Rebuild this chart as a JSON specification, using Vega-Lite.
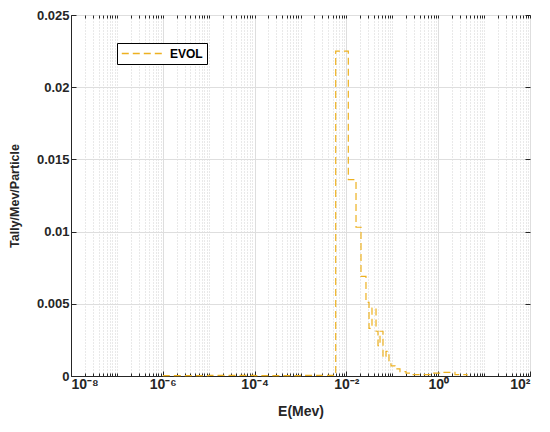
{
  "$schema": "https://vega.github.io/schema/vega-lite/v6.json",
  "width": 459,
  "height": 361,
  "autosize": "none",
  "padding": {"left": 71, "top": 15, "right": 20, "bottom": 56},
  "background": "white",
  "data": {
    "values": [
      {"E": 0.000001, "v": 0.00002, "series": "EVOL"},
      {"E": 0.00001, "v": 0.00004, "series": "EVOL"},
      {"E": 0.0001, "v": 0.00003, "series": "EVOL"},
      {"E": 0.001, "v": 0.00005, "series": "EVOL"},
      {"E": 0.00585, "v": 0.0225, "series": "EVOL"},
      {"E": 0.011, "v": 0.0136, "series": "EVOL"},
      {"E": 0.0162, "v": 0.0103, "series": "EVOL"},
      {"E": 0.0208, "v": 0.0069, "series": "EVOL"},
      {"E": 0.0267, "v": 0.0051, "series": "EVOL"},
      {"E": 0.0311, "v": 0.0033, "series": "EVOL"},
      {"E": 0.0361, "v": 0.0047, "series": "EVOL"},
      {"E": 0.0442, "v": 0.0031, "series": "EVOL"},
      {"E": 0.0488, "v": 0.0021, "series": "EVOL"},
      {"E": 0.054, "v": 0.0031, "series": "EVOL"},
      {"E": 0.0627, "v": 0.0013, "series": "EVOL"},
      {"E": 0.073, "v": 0.0017, "series": "EVOL"},
      {"E": 0.0847, "v": 0.001, "series": "EVOL"},
      {"E": 0.0937, "v": 0.0007, "series": "EVOL"},
      {"E": 0.1145, "v": 0.0005, "series": "EVOL"},
      {"E": 0.147, "v": 0.0003, "series": "EVOL"},
      {"E": 0.199, "v": 0.0002, "series": "EVOL"},
      {"E": 0.269, "v": 0.0001, "series": "EVOL"},
      {"E": 0.8, "v": 0.0002, "series": "EVOL"},
      {"E": 1.27, "v": 0.00025, "series": "EVOL"},
      {"E": 2.32, "v": 0.0001, "series": "EVOL"},
      {"E": 4.24, "v": 0.00002, "series": "EVOL"}
    ]
  },
  "layer": [
    {
      "mark": {"type": "line", "opacity": 0},
      "encoding": {
        "x": {
          "field": "E",
          "type": "quantitative",
          "scale": {"type": "log", "domain": [1e-8, 100], "nice": false},
          "axis": {
            "values": [1e-7, 1e-5, 1e-3, 1e-1, 10,
              2e-8, 3e-8, 4e-8, 5e-8, 6e-8, 7e-8, 8e-8, 9e-8,
              2e-7, 3e-7, 4e-7, 5e-7, 6e-7, 7e-7, 8e-7, 9e-7,
              2e-6, 3e-6, 4e-6, 5e-6, 6e-6, 7e-6, 8e-6, 9e-6,
              2e-5, 3e-5, 4e-5, 5e-5, 6e-5, 7e-5, 8e-5, 9e-5,
              2e-4, 3e-4, 4e-4, 5e-4, 6e-4, 7e-4, 8e-4, 9e-4,
              2e-3, 3e-3, 4e-3, 5e-3, 6e-3, 7e-3, 8e-3, 9e-3,
              0.02, 0.03, 0.04, 0.05, 0.06, 0.07, 0.08, 0.09,
              0.2, 0.3, 0.4, 0.5, 0.6, 0.7, 0.8, 0.9,
              2, 3, 4, 5, 6, 7, 8, 9,
              20, 30, 40, 50, 60, 70, 80, 90],
            "labels": false,
            "domain": false,
            "title": null,
            "grid": true,
            "gridDash": [1, 2],
            "gridColor": "#c8c8c8",
            "gridWidth": 0.8,
            "ticks": true,
            "tickSize": -3,
            "tickColor": "#262626"
          }
        },
        "y": {
          "field": "v",
          "type": "quantitative",
          "scale": {"domain": [0, 0.025], "nice": false},
          "axis": null
        }
      }
    },
    {
      "mark": {"type": "line", "opacity": 0},
      "encoding": {
        "x": {
          "field": "E",
          "type": "quantitative",
          "axis": {
            "orient": "top",
            "values": [1e-8, 1e-6, 1e-4, 1e-2, 1, 100,
              1e-7, 1e-5, 1e-3, 1e-1, 10,
              2e-8, 3e-8, 4e-8, 5e-8, 6e-8, 7e-8, 8e-8, 9e-8,
              2e-7, 3e-7, 4e-7, 5e-7, 6e-7, 7e-7, 8e-7, 9e-7,
              2e-6, 3e-6, 4e-6, 5e-6, 6e-6, 7e-6, 8e-6, 9e-6,
              2e-5, 3e-5, 4e-5, 5e-5, 6e-5, 7e-5, 8e-5, 9e-5,
              2e-4, 3e-4, 4e-4, 5e-4, 6e-4, 7e-4, 8e-4, 9e-4,
              2e-3, 3e-3, 4e-3, 5e-3, 6e-3, 7e-3, 8e-3, 9e-3,
              0.02, 0.03, 0.04, 0.05, 0.06, 0.07, 0.08, 0.09,
              0.2, 0.3, 0.4, 0.5, 0.6, 0.7, 0.8, 0.9,
              2, 3, 4, 5, 6, 7, 8, 9,
              20, 30, 40, 50, 60, 70, 80, 90],
            "labels": false,
            "domain": false,
            "title": null,
            "grid": false,
            "ticks": true,
            "tickSize": -3,
            "tickColor": "#262626"
          }
        },
        "y": {
          "field": "v",
          "type": "quantitative",
          "axis": {
            "orient": "right",
            "values": [0, 0.005, 0.01, 0.015, 0.02, 0.025],
            "labels": false,
            "domain": false,
            "title": null,
            "grid": false,
            "ticks": true,
            "tickSize": -5,
            "tickColor": "#262626"
          }
        }
      }
    },
    {
      "mark": {
        "type": "line",
        "interpolate": "step-after",
        "strokeDash": [7, 4],
        "strokeWidth": 1.2
      },
      "encoding": {
        "x": {
          "field": "E",
          "type": "quantitative",
          "axis": {
            "values": [1e-8, 1e-6, 1e-4, 1e-2, 1, 100],
            "labelExpr": "datum.value < 5e-8 ? '10⁻⁸' : datum.value < 5e-6 ? '10⁻⁶' : datum.value < 5e-4 ? '10⁻⁴' : datum.value < 5e-2 ? '10⁻²' : datum.value < 5 ? '10⁰' : '10²'",
            "labelFontSize": 14,
            "title": "E(Mev)",
            "titleFontSize": 14,
            "grid": true,
            "gridColor": "#dedede",
            "gridWidth": 1,
            "domain": true,
            "domainColor": "#262626",
            "ticks": true,
            "tickSize": -5,
            "tickColor": "#262626",
            "labelPadding": 6,
            "titlePadding": 13
          }
        },
        "y": {
          "field": "v",
          "type": "quantitative",
          "axis": {
            "values": [0, 0.005, 0.01, 0.015, 0.02, 0.025],
            "format": ".3~f",
            "title": "Tally/Mev/Particle",
            "titleFontSize": 12.5,
            "grid": true,
            "gridColor": "#dedede",
            "gridWidth": 1,
            "domain": true,
            "domainColor": "#262626",
            "ticks": true,
            "tickSize": -5,
            "tickColor": "#262626",
            "labelPadding": 7,
            "titlePadding": 15
          }
        },
        "color": {
          "field": "series",
          "type": "nominal",
          "scale": {"domain": ["EVOL"], "range": ["#EDB120"]},
          "legend": {
            "orient": "none",
            "legendX": 46,
            "legendY": 28,
            "title": null,
            "symbolType": "stroke",
            "symbolDash": [7, 4],
            "symbolStrokeWidth": 1.5,
            "symbolSize": 1800,
            "clipHeight": 13,
            "labelFontSize": 12,
            "labelFontWeight": "bold",
            "labelColor": "black",
            "labelOffset": 5,
            "strokeColor": "black",
            "fillColor": "white",
            "padding": 4
          }
        }
      }
    }
  ],
  "resolve": {"axis": {"x": "independent", "y": "independent"}},
  "config": {
    "view": {"stroke": "#262626", "strokeWidth": 1},
    "font": "Liberation Sans",
    "axis": {
      "labelFont": "Liberation Sans",
      "labelFontSize": 13,
      "labelFontWeight": "bold",
      "labelColor": "#262626",
      "titleFont": "Liberation Sans",
      "titleFontSize": 13,
      "titleFontWeight": "bold",
      "titleColor": "#262626"
    },
    "legend": {"labelFont": "Liberation Sans"}
  }
}
